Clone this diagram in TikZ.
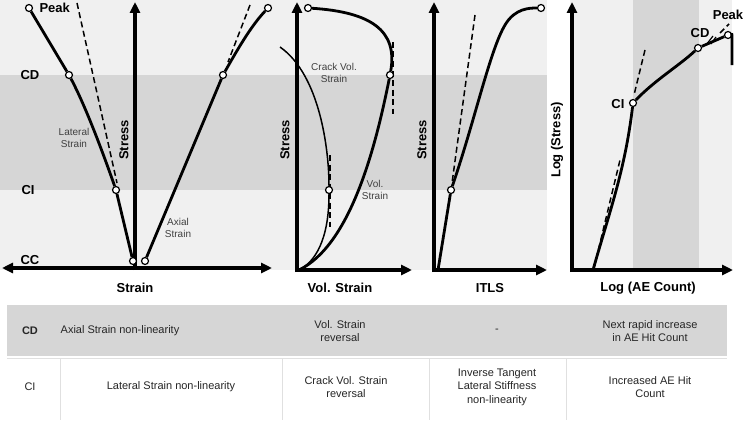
\documentclass[tikz,border=0pt]{standalone}
\usepackage{fontspec}
\setmainfont{Liberation Sans}
\usetikzlibrary{arrows.meta}
\begin{document}
\begin{tikzpicture}[x=1pt,y=-1pt,
  ax/.style={line width=3.4pt,-{Triangle[length=11pt,width=10pt]}},
  crv/.style={line width=2.8pt},
  thin crv/.style={line width=1.5pt},
  dsh/.style={line width=1.5pt,dash pattern=on 6pt off 3.5pt},
  pt/.style={circle,draw,fill=white,line width=1.2pt,inner sep=0pt,minimum size=7pt},
  lab/.style={font=\fontsize{13}{14}\selectfont\bfseries},
  small/.style={font=\fontsize{10}{11.5}\selectfont,text=black!75,align=center},
  cell/.style={font=\fontsize{11}{13.5}\selectfont,align=center,text=black!85}]
\useasboundingbox (0,0) rectangle (746,420);
\fill[white] (0,0) rectangle (746,420);
% backgrounds
\fill[black!6] (0,0) rectangle (547,270);
\fill[black!16] (0,75) rectangle (547,190);
\fill[black!6] (570,0) rectangle (732,270);
\fill[black!16] (633,0) rectangle (699,270);
% Plot 1
\node[lab] at (30,75) {CD};
\node[lab] at (28,190) {CI};
\node[lab] at (30,260) {CC};
\node[lab,anchor=west] at (36,8) {Peak};
\draw[dsh] (77,3) -- (117,183);
\draw[dsh] (250,5) -- (228,62);
\coordinate (o1) at (135,270);
\coordinate (top1) at (135,2);
\draw[ax] (o1) -- (top1);
\coordinate (l1) at (2,268); \coordinate (r1) at (272,268);
\draw[line width=3.4pt,{Triangle[length=11pt,width=10pt]}-{Triangle[length=11pt,width=10pt]}] (l1) -- (r1);
\node[lab,rotate=90] at (124,140) {Stress};
\node[pt] (pk1) at (29,8) {};
\node[pt] (cd1) at (69,75) {};
\node[pt] (ci1) at (116,190) {};
\node[pt] (cc1) at (133,261) {};
\node[pt] (cc2) at (145,261) {};
\node[pt] (cd2) at (223,75) {};
\node[pt] (pk2) at (268,8) {};
\draw[crv] (cc1) -- (ci1) .. controls (102,150) and (85,105) .. (cd1) -- (pk1);
\draw[crv] (cc2) -- (cd2) .. controls (240,45) and (252,25) .. (pk2);
\node[small] at (74,138) {Lateral\\Strain};
\node[small] at (178,228) {Axial\\Strain};
\node[lab] at (135,288) {Strain};
% Plot 2
\coordinate (o2) at (297,272);
\draw[ax] (o2) -- (297,2);
\draw[ax] (297,270) -- (412,270);
\node[lab,rotate=90] at (285,140) {Stress};
\draw[dsh] (393,42) -- (393,114);
\draw[dsh] (330,155) -- (330,227);
\node[pt] (vp) at (308,8) {};
\node[pt] (vr) at (390,75) {};
\node[pt] (cr) at (329,190) {};
\draw[crv] (299,270) .. controls (350,245) and (375,150) .. (vr) .. controls (398,30) and (370,12) .. (vp);
\draw[thin crv] (280,47) .. controls (320,75) and (329,150) .. (cr) .. controls (329,240) and (315,262) .. (299,270);
\node[small] at (334,73) {Crack Vol.\\Strain};
\node[small] at (375,190) {Vol.\\Strain};
\node[lab] at (340,288) {Vol. Strain};
% Plot 3
\draw[ax] (434,272) -- (434,2);
\draw[ax] (432,270) -- (547,270);
\node[lab,rotate=90] at (422,140) {Stress};
\draw[dsh] (475,15) -- (452,183);
\node[pt] (ip) at (451,190) {};
\node[pt] (itop) at (541,8) {};
\draw[crv] (438,270) -- (ip) .. controls (475,120) and (490,50) .. (505,25) .. controls (515,8) and (530,8) .. (itop);
\node[lab] at (490,288) {ITLS};
% Plot 4
\draw[ax] (572,272) -- (572,2);
\draw[ax] (570,270) -- (733,270);
\node[lab,rotate=90] at (557,140) {Log (Stress)};
\draw[dsh] (645,50) -- (634,95);
\draw[dsh] (594,268) -- (620,160);
\draw[line width=1.2pt] (706,45) -- (713,36);
\draw[line width=1.2pt] (711,44) -- (716,37);
\draw[dsh] (720,33) -- (729,24);
\node[pt] (aci) at (633,103) {};
\node[pt] (acd) at (698,48) {};
\node[pt] (apk) at (728,35) {};
\draw[crv] (593,270) .. controls (610,210) and (625,170) .. (aci) .. controls (655,80) and (680,65) .. (acd) -- (apk) .. controls (732,33) and (732,40) .. (732,65);
\node[lab,anchor=east] at (628,104) {CI};
\node[lab] at (700,33) {CD};
\node[lab] at (728,15) {Peak};
\node[lab] at (648,288) {Log (AE Count)};
% Table
\fill[black!16] (7,305) rectangle (727,356);
\draw[black!12,line width=1pt] (7,358) -- (727,358);
\foreach \xx in {60,282,429,566} \draw[black!12,line width=1pt] (\xx,358) -- (\xx,420);
\node[cell,font=\fontsize{11}{13.5}\selectfont\bfseries] at (30,331) {CD};
\node[cell] at (120,331) {Axial Strain non-linearity};
\node[cell] at (340,331) {Vol. Strain\\reversal};
\node[cell] at (497,331) {-};
\node[cell] at (650,331) {Next rapid increase\\in AE Hit Count};
\node[cell] at (30,387) {CI};
\node[cell] at (171,387) {Lateral Strain non-linearity};
\node[cell] at (346,387) {Crack Vol. Strain\\reversal};
\node[cell] at (497,387) {Inverse Tangent\\Lateral Stiffness\\non-linearity};
\node[cell] at (650,387) {Increased AE Hit\\Count};
\end{tikzpicture}
\end{document}
